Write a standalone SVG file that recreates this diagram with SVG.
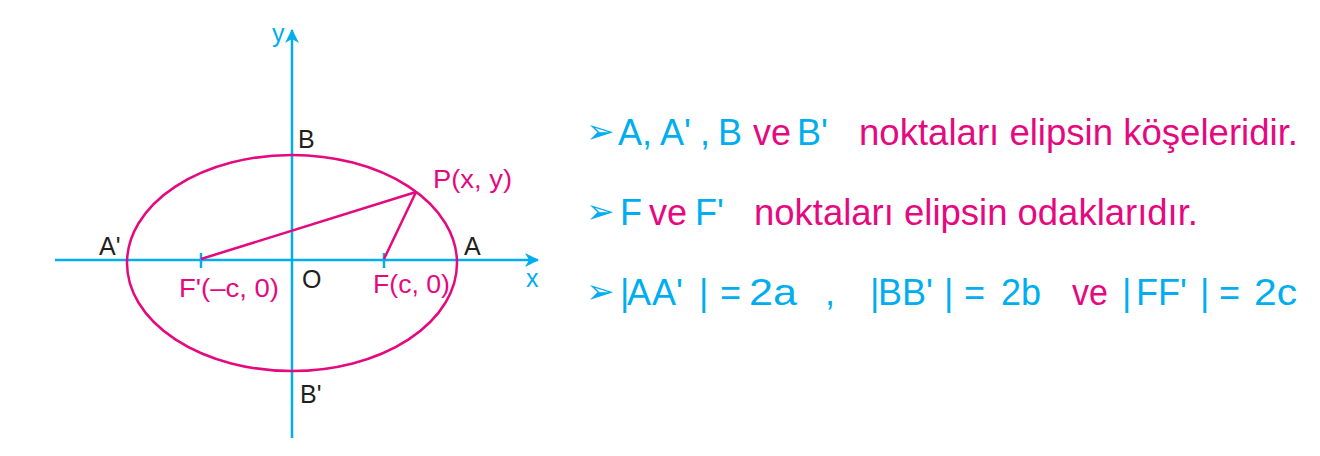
<svg xmlns="http://www.w3.org/2000/svg" width="1320" height="456" viewBox="0 0 1320 456">
<style>
text{font-family:"Liberation Sans",Arial,Helvetica,sans-serif}
.bl{fill:#00AEEF}
.pk{fill:#E5097F}
.bk{fill:#231F20}
.ax{stroke:#00AEEF;stroke-width:2.5;fill:none}
.el{stroke:#E5097F;stroke-width:2.5;fill:none}
.lbl{font-size:25px}
.plbl{font-size:26px}
.t{font-size:36px}
.bu{font-family:"DejaVu Sans",sans-serif;font-size:34px;fill:#00AEEF}
</style>
<defs>
<marker id="arr" viewBox="0 0 14 14" refX="13" refY="7" markerWidth="14" markerHeight="14" markerUnits="userSpaceOnUse" orient="auto">
<path d="M0,0 L14,7 L0,14 L4,7 Z" fill="#00AEEF"/>
</marker>
</defs>
<rect width="1320" height="456" fill="#ffffff"/>
<g id="connectors">
<line id="x-axis" class="ax" x1="55" y1="260" x2="538" y2="260" marker-end="url(#arr)"/>
<line id="y-axis" class="ax" x1="292" y1="438" x2="292" y2="30" marker-end="url(#arr)"/>
<line class="ax" x1="201" y1="253" x2="201" y2="268"/>
<line class="ax" x1="384" y1="253" x2="384" y2="268"/>
<line class="el" x1="201" y1="259" x2="416" y2="192"/>
<line class="el" x1="384" y1="259" x2="416" y2="192"/>
</g>
<g id="ellipse">
<ellipse class="el" cx="292" cy="263" rx="165" ry="108"/>
</g>
<g id="labels">
<text class="lbl bl" x="272" y="42">y</text>
<text class="lbl bl" x="526" y="287">x</text>
<text class="lbl bk" x="298" y="148">B</text>
<text class="lbl bk" x="99" y="255">A'</text>
<text class="lbl bk" x="464" y="255">A</text>
<text class="lbl bk" x="302" y="288">O</text>
<text class="lbl bk" x="300" y="403">B'</text>
<text class="plbl pk" x="179" y="297" textLength="100" lengthAdjust="spacingAndGlyphs">F'(–c, 0)</text>
<text class="plbl pk" x="373" y="293" textLength="77" lengthAdjust="spacingAndGlyphs">F(c, 0)</text>
<text class="plbl pk" x="433" y="188" textLength="79" lengthAdjust="spacingAndGlyphs">P(x, y)</text>
</g>
<g id="line1">
<text class="bu" x="586" y="143">➢</text>
<text class="t bl" x="618" y="145">A,</text>
<text class="t bl" x="660" y="145">A'</text>
<text class="t bl" x="700" y="145">,</text>
<text class="t bl" x="718" y="145">B</text>
<text class="t pk" x="753" y="145">ve</text>
<text class="t bl" x="797" y="145">B'</text>
<text class="t pk" x="859" y="145" textLength="439" lengthAdjust="spacingAndGlyphs">noktaları elipsin köşeleridir.</text>
</g>
<g id="line2">
<text class="bu" x="586" y="223">➢</text>
<text class="t bl" x="620" y="225">F</text>
<text class="t pk" x="649" y="225">ve</text>
<text class="t bl" x="695" y="225">F'</text>
<text class="t pk" x="754" y="225" textLength="444" lengthAdjust="spacingAndGlyphs">noktaları elipsin odaklarıdır.</text>
</g>
<g id="line3">
<text class="bu" x="586" y="303">➢</text>
<text class="t bl" x="620" y="305">|</text>
<text class="t bl" x="627" y="305">A</text>
<text class="t bl" x="652" y="305">A'</text>
<text class="t bl" x="699" y="305">|</text>
<text class="t bl" x="720" y="305">=</text>
<text class="t bl" x="749" y="305" textLength="48" lengthAdjust="spacingAndGlyphs">2a</text>
<text class="t bl" x="825" y="305">,</text>
<text class="t bl" x="870" y="305">|</text>
<text class="t bl" x="878" y="305">B</text>
<text class="t bl" x="902" y="305">B'</text>
<text class="t bl" x="944" y="305">|</text>
<text class="t bl" x="964" y="305">=</text>
<text class="t bl" x="1001" y="305" textLength="40" lengthAdjust="spacingAndGlyphs">2b</text>
<text class="t pk" x="1072" y="305" textLength="36" lengthAdjust="spacingAndGlyphs">ve</text>
<text class="t bl" x="1122" y="305">|</text>
<text class="t bl" x="1136" y="305">F</text>
<text class="t bl" x="1158" y="305">F'</text>
<text class="t bl" x="1200" y="305">|</text>
<text class="t bl" x="1219" y="305">=</text>
<text class="t bl" x="1254" y="305" textLength="43" lengthAdjust="spacingAndGlyphs">2c</text>
</g>
</svg>
